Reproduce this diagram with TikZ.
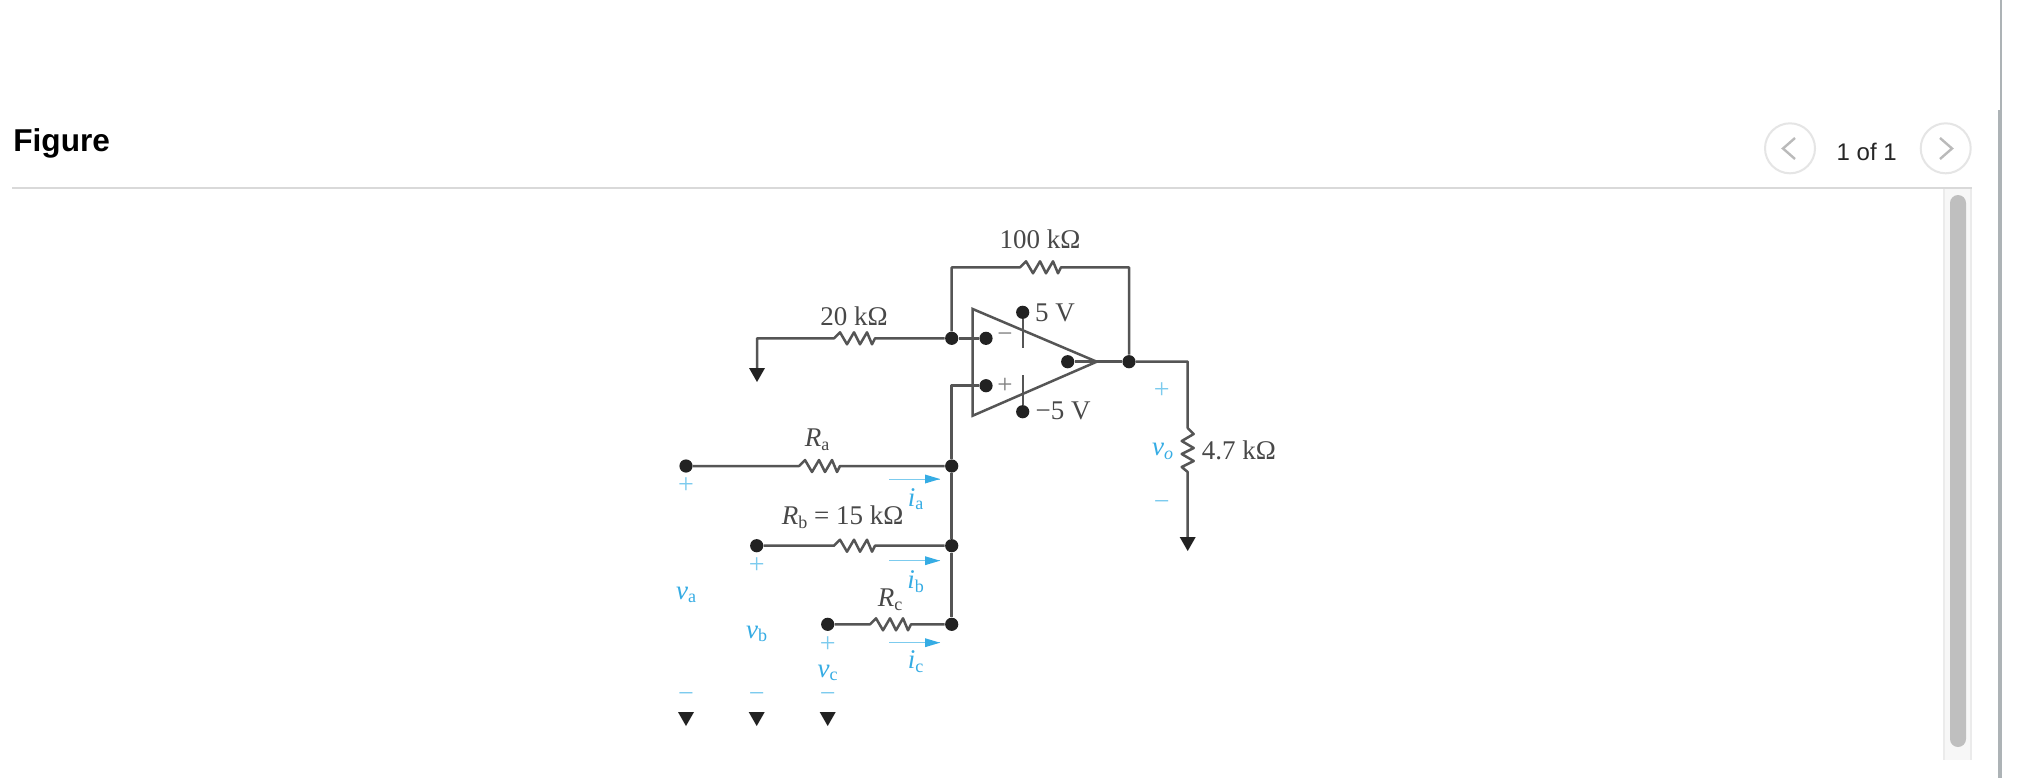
\documentclass[tikz,border=0pt]{standalone}
\usepackage{fontspec}
\setmainfont{Liberation Serif}
\newfontfamily\uifont{Liberation Sans}
\definecolor{wirec}{HTML}{555555}
\definecolor{inkc}{HTML}{222222}
\definecolor{textc}{HTML}{484848}
\definecolor{cyanc}{HTML}{35ACE4}
\definecolor{cyanl}{HTML}{7CCBEE}
\newcommand{\subsc}[1]{\raisebox{-0.3ex}{\fontsize{9}{9}\selectfont #1}}
\newcommand{\zigh}{-- ++(6,-6) -- ++(7,12) -- ++(7,-12) -- ++(6,12) -- ++(7,-12) -- ++(5,12) -- ++(3,-6)}
\newcommand{\zigv}{-- ++(6,6) -- ++(-12,7) -- ++(12,7) -- ++(-12,6) -- ++(12,7) -- ++(-12,6) -- ++(6,5)}
\tikzset{
  x=0.5pt,y=-0.5pt,
  wire/.style={draw=wirec,line width=1.25pt,line join=round},
  thinwire/.style={draw=wirec,line width=1pt},
  dotn/.style={circle,fill=inkc,inner sep=0pt,minimum size=6.6pt},
  lab/.style={text=textc,font=\fontsize{13.5}{14}\selectfont,inner sep=0pt},
  clab/.style={text=cyanc,font=\fontsize{13.5}{14}\selectfont\itshape,inner sep=0pt},
  sign/.style={text=cyanl,font=\fontsize{14}{14}\selectfont,inner sep=0pt},
  gsign/.style={text=textc!70,font=\fontsize{13.5}{14}\selectfont,inner sep=0pt},
  gndtip/.style={fill=inkc},
  curr/.style={draw=cyanl,line width=0.5pt},
  currhead/.style={fill=cyanc},
  chrome/.style={draw=black!10,line width=1pt,fill=white},
  chev/.style={draw=black!27,line width=1.2pt},
}
\newcommand{\gndmark}[1]{\fill[gndtip] (#1) ++(-8,0) -- ++(16,0) -- ++(-8,14) -- cycle;}
\begin{document}
\begin{tikzpicture}
\useasboundingbox (0,0) rectangle (2024,778);
\fill[white] (0,0) rectangle (2024,778);

% page chrome
\node[anchor=base west,inner sep=0pt,font=\uifont\bfseries\fontsize{15.8}{16}\selectfont,text=black] (figtitle) at (13,151) {Figure};
\fill[black!15] (12,186.7) rectangle (1972,188.7);
\node[circle,chrome,inner sep=0pt,minimum size=25pt] (prevb) at (1790,148.3) {};
\node[circle,chrome,inner sep=0pt,minimum size=25pt] (nextb) at (1945.7,148.3) {};
\draw[chev] (1795,138) -- (1783,148.5) -- (1795,159);
\draw[chev] (1940,138) -- (1952,148.5) -- (1940,159);
\node[inner sep=0pt,font=\uifont\fontsize{12}{12}\selectfont,text=black!85] (pager) at (1866.7,151.5) {1 of 1};
\fill[black!3] (1942.5,188.7) rectangle (1971.7,760);
\fill[black!8] (1942.5,188.7) rectangle (1944.5,760);
\fill[black!8] (1969.7,188.7) rectangle (1971.7,760);
\fill[black!25,rounded corners=4pt] (1950,195) rectangle (1966,747);
\fill[blue!30!cyan!10!black!32] (1998,110) rectangle (2002,778);
\fill[blue!30!cyan!10!black!32] (2000,0) rectangle (2002,110);

% named points
\node[dotn] (jfb) at (951.7,338.3) {};
\node[dotn] (ja) at (951.7,466) {};
\node[dotn] (jb) at (951.7,545.7) {};
\node[dotn] (jc) at (951.7,624.3) {};
\node[dotn] (jout) at (1129,361.7) {};
\node[dotn] (inm) at (986,338.3) {};
\node[dotn] (inp) at (986,385.7) {};
\node[dotn] (outd) at (1067.7,361.7) {};
\node[dotn] (vpos) at (1022.7,312.3) {};
\node[dotn] (vneg) at (1022.7,411.7) {};
\node[dotn] (ta) at (686,466) {};
\node[dotn] (tb) at (756.7,545.7) {};
\node[dotn] (tc) at (827.7,624.3) {};
\coordinate (opt) at (972.7,309);
\coordinate (opb) at (972.7,415.7);
\coordinate (opa) at (1096.7,361.7);
\coordinate (bartop) at (1022.7,348);
\coordinate (barbot) at (1022.7,375);
\coordinate (g1) at (757,368);
\coordinate (g2) at (1187.7,537);
\coordinate (g3) at (686,712);
\coordinate (g4) at (756.7,712);
\coordinate (g5) at (827.7,712);
\coordinate (r20) at (834,338.3);
\coordinate (r100) at (1020,267.3);
\coordinate (rRa) at (799,466);
\coordinate (rRb) at (834,545.7);
\coordinate (rRc) at (870,624.3);
\coordinate (rL) at (1187.7,428);

% wires
\draw[wire] (g1) -- (757,338.3) -- (r20) \zigh -- (jfb);
\draw[wire] (jfb) -- (951.7,267.3) -- (r100) \zigh -- (1129,267.3) -- (jout);
\draw[wire] (jfb) -- (inm);
\draw[wire] (inp) -- (951.7,385.7) -- (ja);
\draw[wire] (ta) -- (rRa) \zigh -- (ja);
\draw[wire] (tb) -- (rRb) \zigh -- (jb);
\draw[wire] (tc) -- (rRc) \zigh -- (jc);
\draw[wire] (ja) -- (jb);
\draw[wire] (jb) -- (jc);
\draw[wire] (outd) -- (opa);
\draw[wire] (opa) -- (jout);
\draw[wire] (jout) -- (1187.7,361.7) -- (rL) \zigv -- (g2);
\draw[thinwire] (vpos) -- (bartop);
\draw[thinwire] (vneg) -- (barbot);
\draw[wire,miter limit=10,line join=miter] (opt) -- (opa) -- (opb) -- cycle;

% ground tips
\gndmark{g1}
\gndmark{g2}
\gndmark{g3}
\gndmark{g4}
\gndmark{g5}

% current arrows
\coordinate (ias) at (889,479);
\coordinate (iae) at (940,479);
\coordinate (ibs) at (889,560.7);
\coordinate (ibe) at (940,560.7);
\coordinate (ics) at (889,642.7);
\coordinate (ice) at (940,642.7);
\draw[curr] (ias) -- (iae);
\draw[curr] (ibs) -- (ibe);
\draw[curr] (ics) -- (ice);
\fill[currhead] (iae) -- ++(-15,-4.5) -- ++(0,9) -- cycle;
\fill[currhead] (ibe) -- ++(-15,-4.5) -- ++(0,9) -- cycle;
\fill[currhead] (ice) -- ++(-15,-4.5) -- ++(0,9) -- cycle;

% black labels
\node[lab] (l100) at (1040,239) {100 kΩ};
\node[lab] (l20) at (854,316) {20 kΩ};
\node[lab] (lRa) at (817,440) {\textit{R}\subsc{a}};
\node[lab] (lRb) at (842.7,517) {\textit{R}\subsc{b} = 15 kΩ};
\node[lab] (lRc) at (890,600) {\textit{R}\subsc{c}};
\node[lab] (l5) at (1055,312.7) {5 V};
\node[lab] (lm5) at (1063,410.7) {−5 V};
\node[lab] (l47) at (1239,450) {4.7 kΩ};
\node[gsign] (opm) at (1005,338) {−};
\node[gsign] (opp) at (1005,385.7) {+};

% blue labels
\node[sign] (pa) at (686,486) {+};
\node[sign] (pb) at (756.7,566) {+};
\node[sign] (pc) at (827.7,645) {+};
\node[sign] (ma) at (686,697.7) {−};
\node[sign] (mb) at (756.7,697.7) {−};
\node[sign] (mc) at (827.7,697.7) {−};
\node[sign] (po) at (1161.7,390.7) {+};
\node[sign] (mo) at (1161.7,505.7) {−};
\node[clab] (va) at (686,595) {v\subsc{\upshape a}};
\node[clab] (vb) at (756.7,634) {v\subsc{\upshape b}};
\node[clab] (vc) at (827.7,673) {v\subsc{\upshape c}};
\node[clab] (vo) at (1162.7,451.7) {v\subsc{o}};
\node[clab] (ia) at (915.7,499) {i\subsc{\upshape a}};
\node[clab] (ib) at (915.7,581.7) {i\subsc{\upshape b}};
\node[clab] (ic) at (915.7,661.7) {i\subsc{\upshape c}};
\end{tikzpicture}
\end{document}
